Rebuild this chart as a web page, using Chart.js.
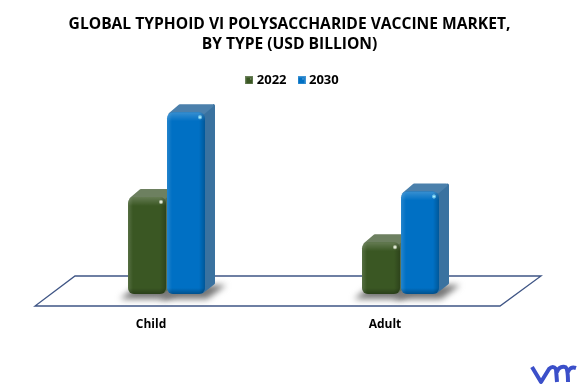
<!DOCTYPE html>
<html>
<head>
<meta charset="utf-8">
<title>Typhoid Vi Polysaccharide Vaccine Market</title>
<style>
    html, body { margin: 0; padding: 0; background: #fff; }
    canvas { display: block; }
</style>
<script src="https://cdn.jsdelivr.net/npm/chart.js"></script>
</head>
<body>
<canvas id="chart" width="579" height="388"></canvas>
<script>
const categories = ['Child', 'Adult'];
const values2022 = [0.985, 0.526];
const values2030 = [1.845, 1.04];
const titleLines = ['GLOBAL TYPHOID VI POLYSACCHARIDE VACCINE MARKET,', 'BY TYPE (USD BILLION)'];

const FONT = '"Open Sans", sans-serif';
const colors = {
    2022: { front: '#3a5723', top: '#6d8060', side: '#5c7050', glint: 'rgba(235,245,220,0.85)' },
    2030: { front: '#0070c4', top: '#4b80ac', side: '#3a72a0', glint: 'rgba(120,230,255,0.85)' }
};

function poly(ctx, pts) {
    ctx.beginPath();
    pts.forEach((p, i) => i ? ctx.lineTo(p[0], p[1]) : ctx.moveTo(p[0], p[1]));
    ctx.closePath();
}

// Small bevelled legend swatch
function swatch(color) {
    const c = document.createElement('canvas');
    c.width = 8;
    c.height = 8;
    const x = c.getContext('2d');
    x.fillStyle = color;
    x.fillRect(0, 0, 8, 8);
    x.strokeStyle = 'rgba(255,255,255,0.25)';
    x.strokeRect(0.5, 0.5, 7, 7);
    x.fillStyle = 'rgba(255,255,255,0.7)';
    x.fillRect(5, 2, 1, 1);
    return c;
}

// Floor, shadows and the back faces of the bars go under the datasets
const backPlugin = {
    id: 'backFaces',
    // The legend sits a little right of the page centre
    afterLayout(chart) {
        chart.legend.left += 4;
        chart.legend.right += 4;
    },
    beforeDatasetsDraw(chart) {
        const ctx = chart.ctx;
        const a = chart.chartArea;
        ctx.save();
        poly(ctx, [[a.left + 25.5, a.bottom - 18], [a.right + 23.5, a.bottom - 18], [a.right - 17.5, a.bottom + 12], [a.left - 14.5, a.bottom + 12]]);
        ctx.strokeStyle = '#3f5585';
        ctx.lineWidth = 1.3;
        ctx.stroke();

        chart.data.datasets.forEach((ds, i) => {
            const c = colors[ds.label];
            chart.getDatasetMeta(i).data.forEach(bar => {
                const l = bar.x - bar.width / 2, r = bar.x + bar.width / 2;
                const t = bar.y, b = bar.base;
                ctx.save();
                ctx.filter = 'blur(3px)';
                ctx.fillStyle = '#767676';
                poly(ctx, [[l - 8, b + 5], [r + 2, b + 5], [r + 21, b - 9], [l + 10, b - 9]]);
                ctx.fill();
                ctx.restore();

                ctx.lineJoin = 'round';
                ctx.lineWidth = 3;
                ctx.fillStyle = ctx.strokeStyle = c.side;
                poly(ctx, [[r - 3, t + 2], [r + 8.5, t - 6.5], [r + 8.5, b - 11], [r - 3, b - 2]]);
                ctx.fill();
                ctx.stroke();
                ctx.fillStyle = ctx.strokeStyle = c.top;
                poly(ctx, [[l + 3, t + 2], [l + 13, t - 6.5], [r + 7, t - 6.5], [r - 3, t + 2]]);
                ctx.fill();
                ctx.stroke();
            });
        });
        ctx.restore();
    },
    // Bevel and highlight on top of the library's bars
    afterDatasetsDraw(chart) {
        const ctx = chart.ctx;
        chart.data.datasets.forEach((ds, i) => {
            const c = colors[ds.label];
            chart.getDatasetMeta(i).data.forEach(bar => {
                const l = bar.x - bar.width / 2, r = bar.x + bar.width / 2;
                const t = bar.y, b = bar.base;
                ctx.save();
                ctx.beginPath();
                ctx.roundRect(l, t, r - l, b - t, 6);
                ctx.clip();
                let g = ctx.createLinearGradient(0, t, 0, t + 9);
                g.addColorStop(0, 'rgba(255,255,255,0.22)');
                g.addColorStop(1, 'rgba(255,255,255,0)');
                ctx.fillStyle = g;
                ctx.fillRect(l, t, r - l, 9);
                g = ctx.createLinearGradient(l, 0, l + 5, 0);
                g.addColorStop(0, 'rgba(255,255,255,0.14)');
                g.addColorStop(1, 'rgba(255,255,255,0)');
                ctx.fillStyle = g;
                ctx.fillRect(l, t, 5, b - t);
                g = ctx.createLinearGradient(r - 6, 0, r, 0);
                g.addColorStop(0, 'rgba(0,0,0,0)');
                g.addColorStop(1, 'rgba(0,0,0,0.22)');
                ctx.fillStyle = g;
                ctx.fillRect(r - 6, t, 6, b - t);
                g = ctx.createLinearGradient(0, b - 6, 0, b);
                g.addColorStop(0, 'rgba(0,0,0,0)');
                g.addColorStop(1, 'rgba(0,0,0,0.28)');
                ctx.fillStyle = g;
                ctx.fillRect(l, b - 6, r - l, 6);
                ctx.restore();

                const hx = r - 5, hy = t + 5;
                g = ctx.createRadialGradient(hx, hy, 0, hx, hy, 2.5);
                g.addColorStop(0, 'rgba(255,255,255,1)');
                g.addColorStop(0.4, c.glint);
                g.addColorStop(1, 'rgba(255,255,255,0)');
                ctx.fillStyle = g;
                ctx.fillRect(hx - 3, hy - 3, 6, 6);
            });
        });
    },
    // Publisher mark in the corner
    afterDraw(chart) {
        const ctx = chart.ctx;
        ctx.save();
        ctx.strokeStyle = '#3b4fc9';
        ctx.lineWidth = 4;
        ctx.lineJoin = 'round';
        ctx.beginPath();
        ctx.moveTo(532, 367);
        ctx.lineTo(541, 382);
        ctx.lineTo(549, 369);
        ctx.quadraticCurveTo(553, 365, 556, 369);
        ctx.lineTo(557, 382);
        ctx.moveTo(557, 372);
        ctx.quadraticCurveTo(559, 366, 565, 367);
        ctx.quadraticCurveTo(568, 367, 568, 382);
        ctx.moveTo(568, 372);
        ctx.quadraticCurveTo(570, 366, 576, 368);
        ctx.stroke();
        ctx.restore();
    }
};

new Chart(document.getElementById('chart'), {
    type: 'bar',
    data: {
        labels: categories,
        datasets: [
            { label: '2022', data: values2022, backgroundColor: colors[2022].front, borderRadius: 6, borderSkipped: false },
            { label: '2030', data: values2030, backgroundColor: colors[2030].front, borderRadius: 6, borderSkipped: false }
        ]
    },
    options: {
        responsive: false,
        animation: false,
        categoryPercentage: 1 / 3,
        barPercentage: 38 / 39,
        layout: { padding: { top: 15, bottom: 41.6 } },
        plugins: {
            tooltip: { enabled: false },
            title: {
                display: true,
                text: titleLines,
                color: '#000',
                font: { family: FONT, size: 15.6, weight: 'bold', lineHeight: 1.28 },
                padding: { top: 0, bottom: 5 }
            },
            legend: {
                display: true,
                position: 'top',
                labels: {
                    color: '#000',
                    font: { family: FONT, size: 13, weight: 'bold' },
                    usePointStyle: true,
                    boxWidth: 2,
                    boxHeight: 8,
                    padding: 14,
                    generateLabels(chart) {
                        return Chart.defaults.plugins.legend.labels.generateLabels(chart).map(item => {
                            item.pointStyle = swatch(colors[item.text].front);
                            return item;
                        });
                    }
                }
            }
        },
        scales: {
            x: {
                grid: { display: false },
                border: { display: false },
                ticks: {
                    color: '#000',
                    font: { family: FONT, size: 12, weight: 'bold' },
                    padding: 15,
                    labelOffset: -15.5,
                    maxRotation: 0
                }
            },
            y: {
                min: 0,
                max: 2,
                grid: { display: false },
                border: { display: false },
                ticks: { display: false },
                afterFit(scale) { scale.width = 49.5; }
            },
            y2: {
                position: 'right',
                grid: { display: false },
                border: { display: false },
                ticks: { display: false },
                afterFit(scale) { scale.width = 61.5; }
            }
        }
    },
    plugins: [backPlugin]
});
</script>
</body>
</html>
